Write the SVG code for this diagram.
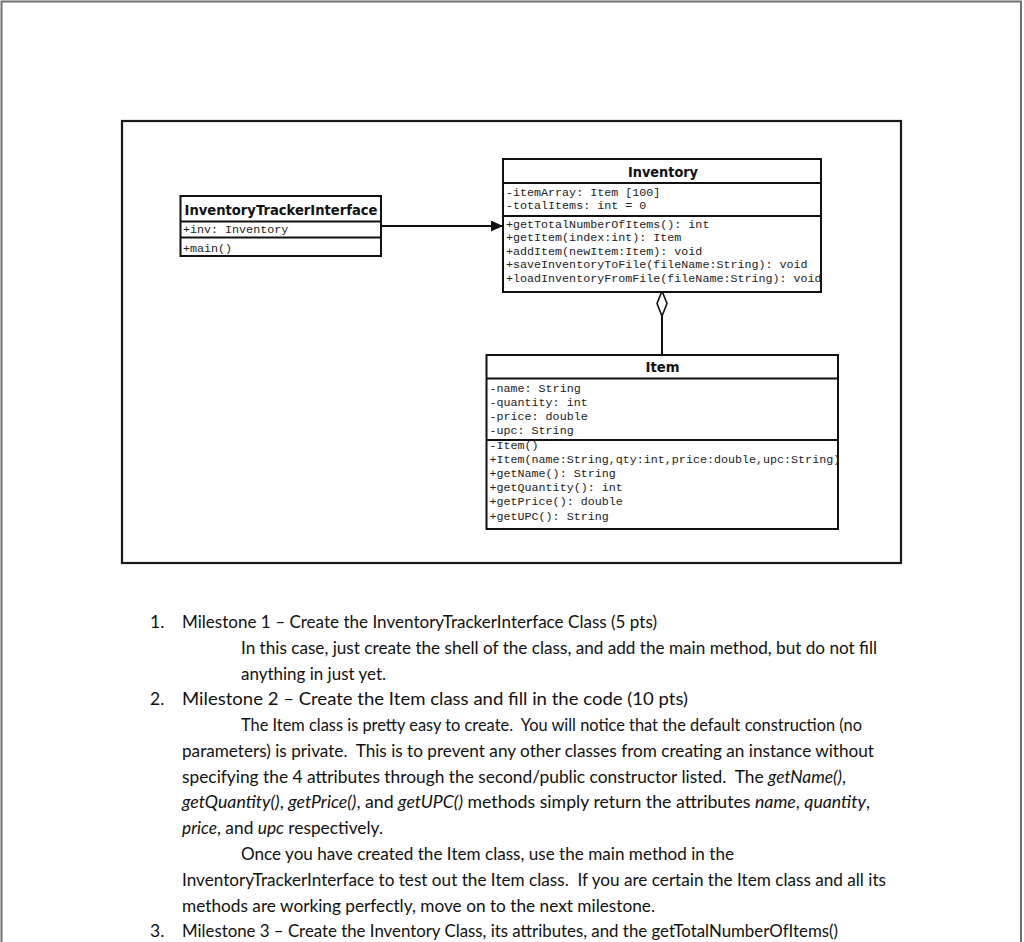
<svg xmlns="http://www.w3.org/2000/svg" width="1024" height="942" viewBox="0 0 1024 942">
<style>
.box{fill:#fff;stroke:#111;stroke-width:2}
.div{stroke:#111;stroke-width:2}
.title{font-family:"DejaVu Sans","Liberation Sans",sans-serif;font-weight:bold;font-size:14.5px;fill:#111;text-anchor:middle}
.mono{font-family:"Liberation Mono","DejaVu Sans Mono",monospace;font-size:11.7px;fill:#222}
.body{font-family:Lato,"Liberation Sans",sans-serif;font-size:17.5px;fill:#111}
.it{font-style:italic}
.conn{stroke:#111;stroke-width:2;fill:none}
</style>
<defs>
<marker id="arrow" markerWidth="12" markerHeight="11" refX="12" refY="5.5" orient="auto" markerUnits="userSpaceOnUse">
<polygon points="0,0 12,5.5 0,11" fill="#111"/>
</marker>
</defs>
<rect width="1024" height="942" fill="#fff"/>
<path d="M1.5,942 V1.5 H1021 V942" fill="none" stroke="#6d7175" stroke-width="2"/>
<rect x="122" y="121" width="779" height="442" fill="none" stroke="#1a1a1a" stroke-width="2.2"/>

<g id="connectors">
<line class="conn" x1="381" y1="226" x2="503" y2="226" marker-end="url(#arrow)"/>
<line class="conn" x1="662" y1="316" x2="662" y2="355"/>
<polygon points="662,291 667,303.5 662,316 657,303.5" fill="#fff" stroke="#111" stroke-width="1.6"/>
</g>

<g id="InventoryTrackerInterface">
<rect class="box" x="180.5" y="196" width="200.5" height="60"/>
<line class="div" x1="180.5" y1="221.5" x2="381" y2="221.5"/>
<line class="div" x1="180.5" y1="237.5" x2="381" y2="237.5"/>
<text class="title" x="281" y="215" textLength="193" lengthAdjust="spacingAndGlyphs">InventoryTrackerInterface</text>
<text class="mono" x="183" y="233">+inv: Inventory</text>
<text class="mono" x="183" y="252">+main()</text>
</g>

<g id="Inventory">
<rect class="box" x="503" y="159" width="318" height="133"/>
<line class="div" x1="503" y1="183" x2="821" y2="183"/>
<line class="div" x1="503" y1="216" x2="821" y2="216"/>
<text class="title" x="663" y="177" textLength="70" lengthAdjust="spacingAndGlyphs">Inventory</text>
<text class="mono" x="506" y="195.5">-itemArray: Item [100]</text>
<text class="mono" x="506" y="209">-totalItems: int = 0</text>
<text class="mono" x="506" y="227.5">+getTotalNumberOfItems(): int</text>
<text class="mono" x="506" y="241">+getItem(index:int): Item</text>
<text class="mono" x="506" y="254.5">+addItem(newItem:Item): void</text>
<text class="mono" x="506" y="268">+saveInventoryToFile(fileName:String): void</text>
<text class="mono" x="506" y="281.5">+loadInventoryFromFile(fileName:String): void</text>
</g>

<g id="Item">
<rect class="box" x="486.5" y="355" width="351.5" height="174"/>
<line class="div" x1="486.5" y1="378.5" x2="838" y2="378.5"/>
<line class="div" x1="486.5" y1="440" x2="838" y2="440"/>
<text class="title" x="662.5" y="372" textLength="34" lengthAdjust="spacingAndGlyphs">Item</text>
<text class="mono" x="489.5" y="391.5">-name: String</text>
<text class="mono" x="489.5" y="405.7">-quantity: int</text>
<text class="mono" x="489.5" y="419.9">-price: double</text>
<text class="mono" x="489.5" y="434.1">-upc: String</text>
<text class="mono" x="489.5" y="448.5">-Item()</text>
<text class="mono" x="489.5" y="462.7">+Item(name:String,qty:int,price:double,upc:String)</text>
<text class="mono" x="489.5" y="476.9">+getName(): String</text>
<text class="mono" x="489.5" y="491.1">+getQuantity(): int</text>
<text class="mono" x="489.5" y="505.3">+getPrice(): double</text>
<text class="mono" x="489.5" y="519.5">+getUPC(): String</text>
</g>

<g id="text">
<text class="body" x="150" y="628">1.</text>
<text class="body" x="182" y="628" textLength="475" lengthAdjust="spacingAndGlyphs">Milestone 1 – Create the InventoryTrackerInterface Class (5 pts)</text>
<text class="body" x="241" y="654" textLength="636" lengthAdjust="spacingAndGlyphs">In this case, just create the shell of the class, and add the main method, but do not fill</text>
<text class="body" x="241" y="680" textLength="145" lengthAdjust="spacingAndGlyphs">anything in just yet.</text>
<text class="body" x="150" y="705">2.</text>
<text class="body" x="182" y="705" textLength="506" lengthAdjust="spacingAndGlyphs">Milestone 2 – Create the Item class and fill in the code (10 pts)</text>
<text class="body" x="241" y="731" textLength="621" lengthAdjust="spacingAndGlyphs" xml:space="preserve">The Item class is pretty easy to create.  You will notice that the default construction (no</text>
<text class="body" x="182" y="757" textLength="692" lengthAdjust="spacingAndGlyphs" xml:space="preserve">parameters) is private.  This is to prevent any other classes from creating an instance without</text>
<text class="body" x="182" y="783" textLength="664" lengthAdjust="spacingAndGlyphs" xml:space="preserve">specifying the 4 attributes through the second/public constructor listed.  The <tspan class="it">getName()</tspan>,</text>
<text class="body" x="182" y="808" textLength="688" lengthAdjust="spacingAndGlyphs"><tspan class="it">getQuantity()</tspan>, <tspan class="it">getPrice()</tspan>, and <tspan class="it">getUPC()</tspan> methods simply return the attributes <tspan class="it">name</tspan>, <tspan class="it">quantity</tspan>,</text>
<text class="body" x="182" y="834" textLength="201" lengthAdjust="spacingAndGlyphs"><tspan class="it">price</tspan>, and <tspan class="it">upc</tspan> respectively.</text>
<text class="body" x="241" y="860" textLength="493" lengthAdjust="spacingAndGlyphs">Once you have created the Item class, use the main method in the</text>
<text class="body" x="182" y="886" textLength="704" lengthAdjust="spacingAndGlyphs" xml:space="preserve">InventoryTrackerInterface to test out the Item class.  If you are certain the Item class and all its</text>
<text class="body" x="182" y="912" textLength="473" lengthAdjust="spacingAndGlyphs">methods are working perfectly, move on to the next milestone.</text>
<text class="body" x="150" y="937">3.</text>
<text class="body" x="182" y="937" textLength="656" lengthAdjust="spacingAndGlyphs">Milestone 3 – Create the Inventory Class, its attributes, and the getTotalNumberOfItems()</text>
</g>
</svg>
